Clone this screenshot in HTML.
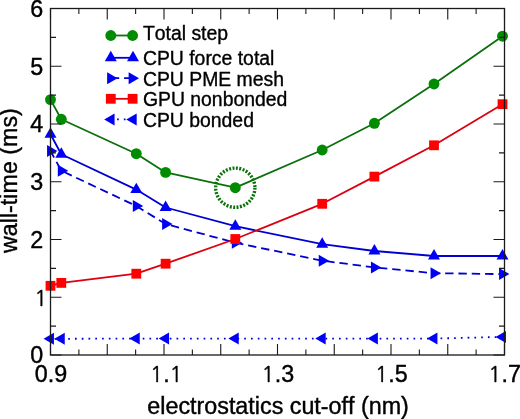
<!DOCTYPE html>
<html><head><meta charset="utf-8"><style>
html,body{margin:0;padding:0;background:#fff;}
body{width:520px;height:419px;overflow:hidden;}
svg{display:block;} text{font-kerning:none;}
</style></head><body>
<svg width="520" height="419" viewBox="0 0 520 419">
<rect width="520" height="419" fill="#fff"/>
<polyline points="50.50,99.60 61.30,119.30 136.30,153.70 165.60,172.40 235.30,187.70 322.20,150.00 374.40,123.30 434.00,84.00 502.50,36.20" fill="none" stroke="#0a700a" stroke-width="1.8" stroke-linejoin="round"/>
<circle cx="50.50" cy="99.60" r="5.45" fill="#008b00"/>
<circle cx="61.30" cy="119.30" r="5.45" fill="#008b00"/>
<circle cx="136.30" cy="153.70" r="5.45" fill="#008b00"/>
<circle cx="165.60" cy="172.40" r="5.45" fill="#008b00"/>
<circle cx="235.30" cy="187.70" r="5.45" fill="#008b00"/>
<circle cx="322.20" cy="150.00" r="5.45" fill="#008b00"/>
<circle cx="374.40" cy="123.30" r="5.45" fill="#008b00"/>
<circle cx="434.00" cy="84.00" r="5.45" fill="#008b00"/>
<circle cx="502.50" cy="36.20" r="5.45" fill="#008b00"/>
<circle cx="235.3" cy="187.7" r="19.6" fill="none" stroke="#0a700a" stroke-width="3.4" stroke-dasharray="1.95 1.471"/>
<polyline points="50.50,134.20 61.30,154.20 136.30,189.60 165.60,207.50 235.30,226.20 322.20,244.20 374.40,251.00 434.00,256.00 502.50,256.00" fill="none" stroke="#0000d0" stroke-width="1.8" stroke-linejoin="round"/>
<polygon points="50.50,127.27 44.50,137.66 56.50,137.66" fill="#0000f5"/>
<polygon points="61.30,147.27 55.30,157.66 67.30,157.66" fill="#0000f5"/>
<polygon points="136.30,182.67 130.30,193.06 142.30,193.06" fill="#0000f5"/>
<polygon points="165.60,200.57 159.60,210.96 171.60,210.96" fill="#0000f5"/>
<polygon points="235.30,219.27 229.30,229.66 241.30,229.66" fill="#0000f5"/>
<polygon points="322.20,237.27 316.20,247.66 328.20,247.66" fill="#0000f5"/>
<polygon points="374.40,244.07 368.40,254.46 380.40,254.46" fill="#0000f5"/>
<polygon points="434.00,249.07 428.00,259.46 440.00,259.46" fill="#0000f5"/>
<polygon points="502.50,249.07 496.50,259.46 508.50,259.46" fill="#0000f5"/>
<polyline points="50.50,150.90 61.30,170.70 136.30,206.00 165.60,224.00 235.30,242.70 322.20,260.70 374.40,267.40 434.00,273.20 502.50,274.10" fill="none" stroke="#0000d0" stroke-width="1.8" stroke-dasharray="8.4 4.89" stroke-dashoffset="0.86"/>
<polygon points="57.43,150.90 47.04,144.90 47.04,156.90" fill="#0000f5"/>
<polygon points="68.23,170.70 57.84,164.70 57.84,176.70" fill="#0000f5"/>
<polygon points="143.23,206.00 132.84,200.00 132.84,212.00" fill="#0000f5"/>
<polygon points="172.53,224.00 162.14,218.00 162.14,230.00" fill="#0000f5"/>
<polygon points="242.23,242.70 231.84,236.70 231.84,248.70" fill="#0000f5"/>
<polygon points="329.13,260.70 318.74,254.70 318.74,266.70" fill="#0000f5"/>
<polygon points="381.33,267.40 370.94,261.40 370.94,273.40" fill="#0000f5"/>
<polygon points="440.93,273.20 430.54,267.20 430.54,279.20" fill="#0000f5"/>
<polygon points="509.43,274.10 499.04,268.10 499.04,280.10" fill="#0000f5"/>
<polyline points="50.50,285.80 61.30,282.90 136.30,273.70 165.60,263.70 235.30,239.00 322.20,203.80 374.40,176.60 434.00,145.30 502.50,104.20" fill="none" stroke="#dc0010" stroke-width="1.8" stroke-linejoin="round"/>
<rect x="45.60" y="280.90" width="9.8" height="9.8" fill="#ff0000"/>
<rect x="56.40" y="278.00" width="9.8" height="9.8" fill="#ff0000"/>
<rect x="131.40" y="268.80" width="9.8" height="9.8" fill="#ff0000"/>
<rect x="160.70" y="258.80" width="9.8" height="9.8" fill="#ff0000"/>
<rect x="230.40" y="234.10" width="9.8" height="9.8" fill="#ff0000"/>
<rect x="317.30" y="198.90" width="9.8" height="9.8" fill="#ff0000"/>
<rect x="369.50" y="171.70" width="9.8" height="9.8" fill="#ff0000"/>
<rect x="429.10" y="140.40" width="9.8" height="9.8" fill="#ff0000"/>
<rect x="497.60" y="99.30" width="9.8" height="9.8" fill="#ff0000"/>
<polyline points="50.50,338.80 61.30,338.80 136.30,338.60 165.60,338.60 235.30,338.60 322.20,338.60 374.40,338.60 434.00,338.60 502.50,336.90" fill="none" stroke="#0000d0" stroke-width="1.8" stroke-dasharray="1.7 5.07" stroke-dashoffset="2.6"/>
<polygon points="43.57,338.80 53.96,332.80 53.96,344.80" fill="#0000f5"/>
<polygon points="54.37,338.80 64.76,332.80 64.76,344.80" fill="#0000f5"/>
<polygon points="129.37,338.60 139.76,332.60 139.76,344.60" fill="#0000f5"/>
<polygon points="158.67,338.60 169.06,332.60 169.06,344.60" fill="#0000f5"/>
<polygon points="228.37,338.60 238.76,332.60 238.76,344.60" fill="#0000f5"/>
<polygon points="315.27,338.60 325.66,332.60 325.66,344.60" fill="#0000f5"/>
<polygon points="367.47,338.60 377.86,332.60 377.86,344.60" fill="#0000f5"/>
<polygon points="427.07,338.60 437.46,332.60 437.46,344.60" fill="#0000f5"/>
<polygon points="495.57,336.90 505.96,330.90 505.96,342.90" fill="#0000f5"/>
<g stroke="#1a1a1a" fill="none">
<rect x="50.5" y="8.5" width="454.0" height="346.5" stroke-width="1.3"/>
<path d="M50.50,355.0v-11M50.50,8.5v11M78.88,355.0v-5.5M78.88,8.5v5.5M107.25,355.0v-11M107.25,8.5v11M135.62,355.0v-5.5M135.62,8.5v5.5M164.00,355.0v-11M164.00,8.5v11M192.37,355.0v-5.5M192.37,8.5v5.5M220.75,355.0v-11M220.75,8.5v11M249.12,355.0v-5.5M249.12,8.5v5.5M277.50,355.0v-11M277.50,8.5v11M305.88,355.0v-5.5M305.88,8.5v5.5M334.25,355.0v-11M334.25,8.5v11M362.63,355.0v-5.5M362.63,8.5v5.5M391.00,355.0v-11M391.00,8.5v11M419.38,355.0v-5.5M419.38,8.5v5.5M447.75,355.0v-11M447.75,8.5v11M476.12,355.0v-5.5M476.12,8.5v5.5M504.50,355.0v-11M504.50,8.5v11M50.5,355.00h11M504.5,355.00h-11M50.5,326.12h5.5M504.5,326.12h-5.5M50.5,297.25h11M504.5,297.25h-11M50.5,268.38h5.5M504.5,268.38h-5.5M50.5,239.50h11M504.5,239.50h-11M50.5,210.62h5.5M504.5,210.62h-5.5M50.5,181.75h11M504.5,181.75h-11M50.5,152.88h5.5M504.5,152.88h-5.5M50.5,124.00h11M504.5,124.00h-11M50.5,95.12h5.5M504.5,95.12h-5.5M50.5,66.25h11M504.5,66.25h-11M50.5,37.38h5.5M504.5,37.38h-5.5M50.5,8.50h11M504.5,8.50h-11" stroke-width="1.1"/>
</g>
<g font-family="Liberation Sans, Arial, Helvetica, sans-serif" font-size="23.3" fill="#000" stroke="#000" stroke-width="0.4">
<text x="51.00" y="381.9" text-anchor="middle">0.9</text>
<text y="381.9"><tspan x="150.01" font-family="NanumGothic, Liberation Sans, sans-serif" font-size="21.4">1</tspan><tspan x="163.26">.</tspan><tspan x="169.44" font-family="NanumGothic, Liberation Sans, sans-serif" font-size="21.4">1</tspan></text>
<text y="381.9"><tspan x="261.51" font-family="NanumGothic, Liberation Sans, sans-serif" font-size="21.4">1</tspan><tspan x="274.76">.</tspan><tspan x="281.24">3</tspan></text>
<text y="381.9"><tspan x="374.91" font-family="NanumGothic, Liberation Sans, sans-serif" font-size="21.4">1</tspan><tspan x="388.16">.</tspan><tspan x="394.64">5</tspan></text>
<text y="381.9"><tspan x="488.21" font-family="NanumGothic, Liberation Sans, sans-serif" font-size="21.4">1</tspan><tspan x="501.46">.</tspan><tspan x="507.94">7</tspan></text>
<text x="43.3" y="363.30" text-anchor="end">0</text>
<text y="305.55"><tspan x="34.25" font-family="NanumGothic, Liberation Sans, sans-serif" font-size="21.4">1</tspan></text>
<text x="43.3" y="247.80" text-anchor="end">2</text>
<text x="43.3" y="190.05" text-anchor="end">3</text>
<text x="43.3" y="132.30" text-anchor="end">4</text>
<text x="43.3" y="74.55" text-anchor="end">5</text>
<text x="43.3" y="16.80" text-anchor="end">6</text>
<text x="278.1" y="414.3" text-anchor="middle">electrostatics cut-off (nm)</text>
<text transform="translate(17.3,180.6) rotate(-90)" text-anchor="middle">wall-time (ms)</text>
</g>
<line x1="110.8" y1="35.5" x2="132.6" y2="35.5" stroke="#0a700a" stroke-width="1.8"/>
<circle cx="110.80" cy="35.50" r="5.45" fill="#008b00"/><circle cx="132.60" cy="35.50" r="5.45" fill="#008b00"/>
<line x1="110.8" y1="57.8" x2="132.6" y2="57.8" stroke="#0000d0" stroke-width="1.8"/>
<polygon points="110.80,50.87 104.80,61.26 116.80,61.26" fill="#0000f5"/><polygon points="133.00,50.87 127.00,61.26 139.00,61.26" fill="#0000f5"/>
<line x1="110.8" y1="78.2" x2="132.6" y2="78.2" stroke="#0000d0" stroke-width="1.8" stroke-dasharray="8.4 4.89"/>
<polygon points="117.53,78.20 107.14,72.20 107.14,84.20" fill="#0000f5"/><polygon points="139.03,78.20 128.64,72.20 128.64,84.20" fill="#0000f5"/>
<line x1="110.8" y1="98.8" x2="132.6" y2="98.8" stroke="#dc0010" stroke-width="1.8"/>
<rect x="105.90" y="93.90" width="9.8" height="9.8" fill="#ff0000"/><rect x="127.70" y="93.90" width="9.8" height="9.8" fill="#ff0000"/>
<line x1="110.8" y1="119.4" x2="132.6" y2="119.4" stroke="#0000d0" stroke-width="1.8" stroke-dasharray="1.7 5.07" stroke-dashoffset="0.5"/>
<polygon points="104.17,119.40 114.56,113.40 114.56,125.40" fill="#0000f5"/><polygon points="126.27,119.40 136.66,113.40 136.66,125.40" fill="#0000f5"/>
<g font-family="Liberation Sans, Arial, Helvetica, sans-serif" font-size="19.4" fill="#000" stroke="#000" stroke-width="0.35">
<text x="142.9" y="40.4">Total step</text>
<text x="142.9" y="65.0">CPU force total</text>
<text x="142.9" y="85.7">CPU PME mesh</text>
<text x="142.9" y="106.3">GPU nonbonded</text>
<text x="142.9" y="126.9">CPU bonded</text>
</g>
</svg>
</body></html>
